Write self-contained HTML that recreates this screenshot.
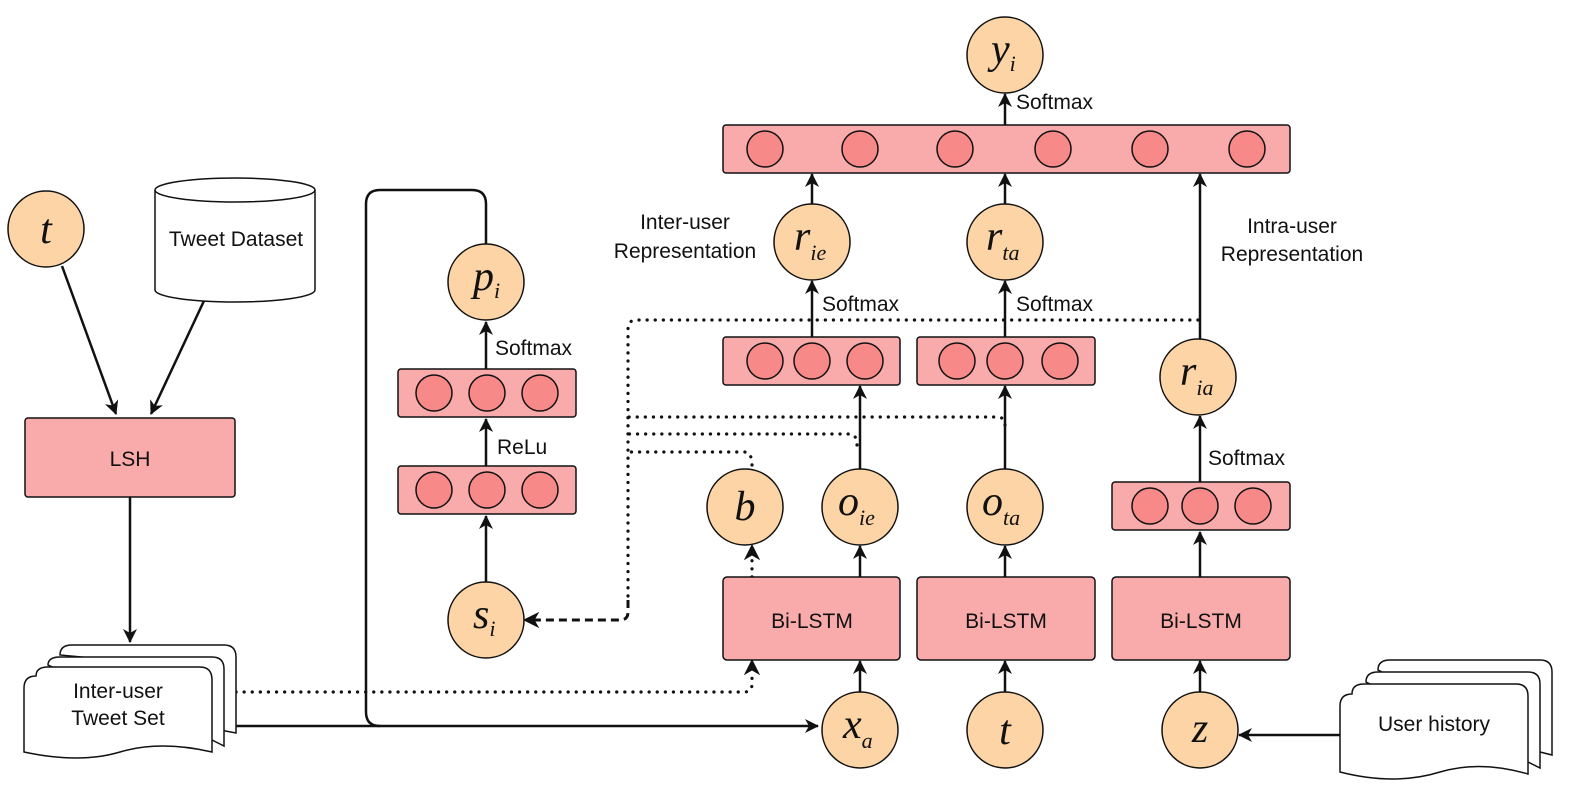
<!DOCTYPE html>
<html><head><meta charset="utf-8"><style>
html,body{margin:0;padding:0;background:#fff}
svg{display:block}
text{font-family:"Liberation Sans",sans-serif;fill:#111}
.v{font-family:"Liberation Serif",serif;font-style:italic}
</style></head><body>
<svg width="1578" height="791" viewBox="0 0 1578 791" xmlns="http://www.w3.org/2000/svg">
<defs>
<marker id="a" markerWidth="14" markerHeight="14" refX="13" refY="7" orient="auto" markerUnits="userSpaceOnUse"><path d="M0,0 L14,7 L0,14 L4,7 z" fill="#111"/></marker>
</defs>
<g stroke="#111" stroke-width="2.5" fill="none">
<line x1="62" y1="266" x2="116" y2="414" marker-end="url(#a)"/>
<line x1="210" y1="288" x2="151" y2="414" marker-end="url(#a)"/>
<line x1="130" y1="497" x2="130" y2="642" marker-end="url(#a)"/>
<path d="M236,726 L818,726" marker-end="url(#a)"/>
<path d="M380,726 Q366,726 366,712 L366,204 Q366,190 380,190 L472,190 Q486,190 486,204 L486,244"/>
<line x1="486" y1="582" x2="486" y2="516" marker-end="url(#a)"/>
<line x1="486" y1="466" x2="486" y2="419" marker-end="url(#a)"/>
<line x1="486" y1="369" x2="486" y2="322" marker-end="url(#a)"/>
<line x1="860" y1="692" x2="860" y2="661" marker-end="url(#a)"/>
<line x1="1005" y1="692" x2="1005" y2="661" marker-end="url(#a)"/>
<line x1="1200" y1="692" x2="1200" y2="661" marker-end="url(#a)"/>
<line x1="1340" y1="735" x2="1239" y2="735" marker-end="url(#a)"/>
<line x1="860" y1="577" x2="860" y2="546" marker-end="url(#a)"/>
<line x1="1005" y1="577" x2="1005" y2="546" marker-end="url(#a)"/>
<line x1="1200" y1="577" x2="1200" y2="532" marker-end="url(#a)"/>
<line x1="860" y1="470" x2="860" y2="386" marker-end="url(#a)"/>
<line x1="1005" y1="470" x2="1005" y2="386" marker-end="url(#a)"/>
<line x1="1200" y1="482" x2="1200" y2="416" marker-end="url(#a)"/>
<line x1="812" y1="337" x2="812" y2="281" marker-end="url(#a)"/>
<line x1="1005" y1="337" x2="1005" y2="281" marker-end="url(#a)"/>
<line x1="1200" y1="340" x2="1200" y2="174" marker-end="url(#a)"/>
<line x1="812" y1="205" x2="812" y2="174" marker-end="url(#a)"/>
<line x1="1005" y1="205" x2="1005" y2="174" marker-end="url(#a)"/>
<line x1="1005" y1="125" x2="1005" y2="94" marker-end="url(#a)"/>
</g>
<g stroke="#111" stroke-width="3.2" fill="none" stroke-dasharray="0.1,8" stroke-linecap="round">
<path d="M1198,320 L636,320 Q628,320 628,330 L628,600"/>
<path d="M1005,425 Q1005,417 997,417 L628,417"/>
<path d="M857,445 Q857,434 849,434 L628,434"/>
<path d="M752,465 Q752,452 744,452 L628,452"/>
<path d="M236,692 L744,692 Q752,692 752,684 L752,672"/>
<path d="M752,577 L752,556"/>
</g>
<path d="M628,600 L628,612 Q628,620 620,620 L532,620" stroke="#111" stroke-width="3" fill="none" stroke-dasharray="8,5"/>
<path d="M524,620 L538,613 L534,620 L538,627 z" fill="#111" stroke="#111" stroke-width="1"/>
<path d="M752,660 L745,674 L752,670 L759,674 z M752,545 L745,559 L752,555 L759,559 z" fill="#111" stroke="#111" stroke-width="1"/>
<g stroke="#111" stroke-width="1.5" fill="#fff">
<path d="M155,190 L155,290 A80,12 0 0 0 315,290 L315,190"/>
<ellipse cx="235" cy="190" rx="80" ry="12"/>
</g>
<text x="236" y="246" font-size="21" text-anchor="middle">Tweet Dataset</text>
<g stroke="#111" stroke-width="1.5" fill="#fff">
<path d="M60,655 Q60,645 72,645 L224,645 Q236,645 236,657 L236,733 L220,730 L220,670 Z"/>
<path d="M48,665 Q48,657 60,657 L212,657 Q224,657 224,669 L224,746 L212,740 Z"/>
<path d="M36,676 Q36,667 48,667 L200,667 Q212,667 212,680 L212,752 Q160,740 120,752 Q80,764 24,752 L24,688 Q24,676 36,676 Z"/>
<path d="M1378,670 Q1378,660 1390,660 L1540,660 Q1552,660 1552,672 L1552,755 L1540,752 Z"/>
<path d="M1366,682 Q1366,672 1378,672 L1528,672 Q1540,672 1540,684 L1540,768 L1528,762 Z"/>
<path d="M1352,694 Q1352,684 1364,684 L1516,684 Q1528,684 1528,696 L1528,774 Q1480,760 1440,772 Q1395,786 1340,772 L1340,706 Q1340,694 1352,694 Z"/>
</g>
<text x="118" y="698" font-size="21" text-anchor="middle">Inter-user</text>
<text x="118" y="725" font-size="21" text-anchor="middle">Tweet Set</text>
<text x="1434" y="731" font-size="21" text-anchor="middle">User history</text>
<g stroke="#111" stroke-width="1.5" fill="#f9aaaa">
<rect x="25" y="418" width="210" height="79" rx="3"/>
<rect x="723" y="577" width="177" height="83" rx="4"/>
<rect x="917" y="577" width="178" height="83" rx="4"/>
<rect x="1112" y="577" width="178" height="83" rx="4"/>
<rect x="398" y="369" width="178" height="48" rx="3"/>
<rect x="398" y="466" width="178" height="48" rx="3"/>
<rect x="723" y="337" width="177" height="48" rx="3"/>
<rect x="917" y="337" width="178" height="48" rx="3"/>
<rect x="1112" y="482" width="178" height="48" rx="3"/>
<rect x="723" y="125" width="567" height="48" rx="3"/>
</g>
<g stroke="#111" stroke-width="1.5" fill="#f78a88">
<circle cx="434" cy="393" r="18"/><circle cx="487" cy="393" r="18"/><circle cx="540" cy="393" r="18"/>
<circle cx="434" cy="490" r="18"/><circle cx="487" cy="490" r="18"/><circle cx="540" cy="490" r="18"/>
<circle cx="765" cy="361" r="18"/><circle cx="812" cy="361" r="18"/><circle cx="865" cy="361" r="18"/>
<circle cx="957" cy="361" r="18"/><circle cx="1005" cy="361" r="18"/><circle cx="1060" cy="361" r="18"/>
<circle cx="1150" cy="506" r="18"/><circle cx="1200" cy="506" r="18"/><circle cx="1253" cy="506" r="18"/>
<circle cx="765" cy="149" r="18"/><circle cx="860" cy="149" r="18"/><circle cx="955" cy="149" r="18"/>
<circle cx="1053" cy="149" r="18"/><circle cx="1150" cy="149" r="18"/><circle cx="1247" cy="149" r="18"/>
</g>
<g font-size="21" text-anchor="middle">
<text x="130" y="466">LSH</text>
<text x="812" y="628">Bi-LSTM</text><text x="1006" y="628">Bi-LSTM</text><text x="1201" y="628">Bi-LSTM</text>
</g>
<g font-size="21">
<text x="495" y="355">Softmax</text><text x="497" y="454">ReLu</text>
<text x="822" y="311">Softmax</text><text x="1016" y="311">Softmax</text>
<text x="1208" y="465">Softmax</text><text x="1016" y="109">Softmax</text>
<text x="685" y="229" text-anchor="middle">Inter-user</text>
<text x="685" y="258" text-anchor="middle">Representation</text>
<text x="1292" y="233" text-anchor="middle">Intra-user</text>
<text x="1292" y="261" text-anchor="middle">Representation</text>
</g>
<g stroke="#111" stroke-width="1.5" fill="#fdd4a6">
<circle cx="46" cy="229" r="38"/><circle cx="486" cy="282" r="38"/><circle cx="486" cy="620" r="38"/>
<circle cx="745" cy="507" r="38"/><circle cx="860" cy="507" r="38"/><circle cx="1005" cy="507" r="38"/>
<circle cx="860" cy="730" r="38"/><circle cx="1005" cy="730" r="38"/><circle cx="1200" cy="730" r="38"/>
<circle cx="812" cy="242" r="38"/><circle cx="1005" cy="242" r="38"/><circle cx="1198" cy="377" r="38"/>
<circle cx="1005" cy="55" r="38"/>
</g>
<g class="v" font-size="42">
<text x="46" y="243" text-anchor="middle" class="v">t</text>
<text x="1005" y="744" text-anchor="middle" class="v">t</text>
<text x="745" y="520" text-anchor="middle" class="v">b</text>
<text x="1200" y="742" text-anchor="middle" class="v">z</text>
<text x="473" y="290" class="v">p<tspan font-size="22" dy="8">i</tspan></text>
<text x="473" y="628" class="v">s<tspan font-size="22" dy="8">i</tspan></text>
<text x="838" y="515" class="v">o<tspan font-size="22" dy="10">ie</tspan></text>
<text x="982" y="515" class="v">o<tspan font-size="22" dy="10">ta</tspan></text>
<text x="843" y="738" class="v">x<tspan font-size="22" dy="10">a</tspan></text>
<text x="794" y="250" class="v">r<tspan font-size="22" dy="10">ie</tspan></text>
<text x="986" y="250" class="v">r<tspan font-size="22" dy="10">ta</tspan></text>
<text x="1180" y="385" class="v">r<tspan font-size="22" dy="10">ia</tspan></text>
<text x="991" y="63" class="v">y<tspan font-size="22" dy="8">i</tspan></text>
</g>
</svg>
</body></html>
